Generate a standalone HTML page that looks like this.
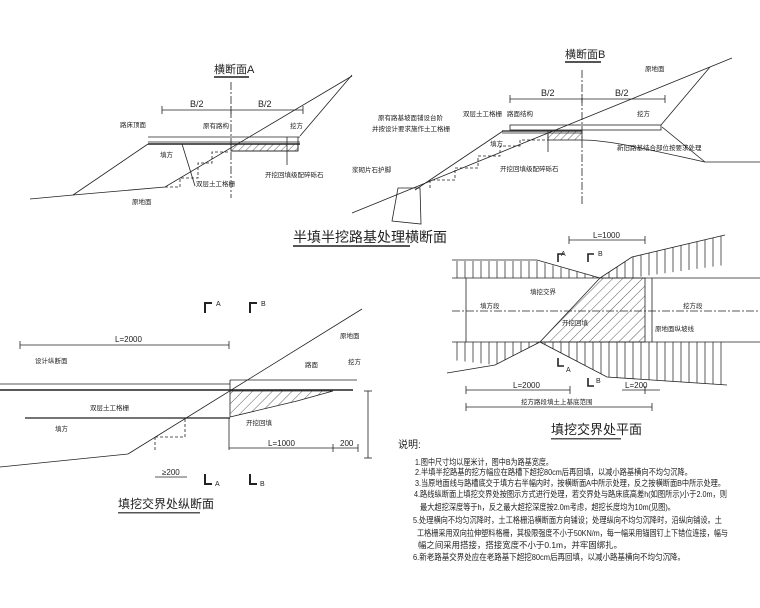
<!DOCTYPE html>
<html><head><meta charset="utf-8"><style>
html,body{margin:0;padding:0;background:#fff;}
svg{display:block;}
text{font-family:"Liberation Sans","Noto Sans CJK SC",sans-serif;fill:#222;}
</style></head><body>
<svg width="760" height="608" viewBox="0 0 760 608" xmlns="http://www.w3.org/2000/svg">
<defs>
<pattern id="h" width="5" height="5" patternUnits="userSpaceOnUse" patternTransform="rotate(45)"><line x1="0" y1="0" x2="0" y2="5" stroke="#333" stroke-width="0.8"/></pattern>
<pattern id="hb" width="7" height="7" patternUnits="userSpaceOnUse" patternTransform="rotate(45)"><line x1="0" y1="0" x2="0" y2="7" stroke="#333" stroke-width="0.8"/></pattern>
<pattern id="tk" width="8" height="30" patternUnits="userSpaceOnUse"><line x1="1" y1="0" x2="1" y2="30" stroke="#333" stroke-width="0.8"/></pattern>
</defs>
<g stroke="#222" stroke-width="0.8" fill="none">
<line x1="231" y1="82" x2="231" y2="198" stroke-dasharray="8,2,2,2"/>
<line x1="162" y1="110" x2="303" y2="110"/>
<line x1="162" y1="106" x2="162" y2="114"/><line x1="231" y1="106" x2="231" y2="114"/><line x1="303" y1="106" x2="303" y2="114"/>
<rect x="231" y="144" width="67" height="7" fill="url(#h)"/>
<line x1="148" y1="137" x2="300" y2="137"/>
<line x1="148" y1="142" x2="300" y2="142"/>
<line x1="148" y1="144" x2="300" y2="144" stroke-width="1.4"/>
<line x1="231" y1="151" x2="298" y2="151"/>
<line x1="298" y1="137" x2="298" y2="151"/>
<polyline points="30,199 73,195 165,187 352,76"/>
<line x1="73" y1="195" x2="148" y2="144"/>
<line x1="300" y1="136" x2="352" y2="75"/>
<polyline points="165,187 180,187 180,178 198,178 198,163 212,163 212,152 228,152" stroke-dasharray="3,2"/>
<line x1="182" y1="144" x2="195" y2="186"/>
<line x1="287" y1="137" x2="287" y2="165"/>
<line x1="582" y1="70" x2="582" y2="205" stroke-dasharray="8,2,2,2"/>
<line x1="510" y1="99" x2="665" y2="99"/>
<line x1="510" y1="95" x2="510" y2="103"/><line x1="582" y1="95" x2="582" y2="103"/><line x1="665" y1="95" x2="665" y2="103"/>
<rect x="548" y="131" width="34" height="9" fill="url(#h)"/>
<rect x="510" y="125" width="151" height="5"/>
<line x1="502" y1="131" x2="582" y2="131" stroke-width="1.3"/>
<line x1="502" y1="133" x2="582" y2="133"/>
<line x1="352" y1="213" x2="732" y2="58"/>
<line x1="661" y1="125" x2="710" y2="67"/>
<polyline points="662,127 705,162 760,162"/>
<line x1="503" y1="131" x2="415" y2="190"/>
<polygon points="398,188 420,188 421,224 392,221"/>
<path d="M582,140 C610,140 650,150 705,162"/>
<polyline points="430,188 430,180 455,180 455,168 478,168 478,156 500,156 500,146 520,146 520,140 548,140" stroke-dasharray="3,2"/>
<line x1="548" y1="133" x2="548" y2="152"/>
<line x1="20" y1="345" x2="229" y2="345"/><line x1="20" y1="341" x2="20" y2="349"/><line x1="229" y1="341" x2="229" y2="349"/>
<line x1="0" y1="384" x2="230" y2="384"/>
<line x1="230" y1="380" x2="357" y2="380"/>
<line x1="230" y1="380" x2="230" y2="390"/>
<line x1="0" y1="390" x2="353" y2="390" stroke-width="1.4"/>
<line x1="25" y1="418" x2="230" y2="418" stroke-width="1.2"/>
<polygon points="230,391 333,391 297,401 230,417" fill="url(#hb)"/>
<polyline points="0,467 128,454"/>
<line x1="128" y1="454" x2="362" y2="309"/>
<polyline points="155,437 185,437 185,418" stroke-dasharray="3,2"/>
<line x1="155" y1="437" x2="155" y2="450" stroke-dasharray="3,2"/>
<line x1="229" y1="418" x2="229" y2="450"/>
<line x1="229" y1="448" x2="358" y2="448"/><line x1="333" y1="444" x2="333" y2="452"/><line x1="358" y1="444" x2="358" y2="452"/>
<line x1="368" y1="391" x2="368" y2="458"/><line x1="364" y1="391" x2="372" y2="391"/><line x1="364" y1="458" x2="372" y2="458"/>
<line x1="155" y1="477" x2="187" y2="477"/>
<path d="M205,313 V303 H212 M250,313 V303 H257" stroke-width="2"/>
<path d="M205,474 V484 H212 M250,474 V484 H257" stroke-width="2"/>
<line x1="569" y1="240" x2="645" y2="240"/><line x1="569" y1="236" x2="569" y2="244"/><line x1="645" y1="236" x2="645" y2="244"/>
<polygon points="452,261 537,261 600,278 452,278" fill="url(#tk)" stroke="none"/>
<polygon points="600,278 632,257 725,235 725,265 630,278" fill="url(#tk)" stroke="none"/>
<polygon points="452,342 540,342 495,365 452,360" fill="url(#tk)" stroke="none"/>
<polygon points="540,342 727,342 727,385 607,377" fill="url(#tk)" stroke="none"/>
<polyline points="452,260 537,260 600,278"/>
<polyline points="600,278 632,257 725,235"/>
<polyline points="447,373 495,365 540,342 607,377 727,385"/>
<line x1="452" y1="278" x2="760" y2="278"/>
<line x1="452" y1="342" x2="760" y2="342"/>
<line x1="452" y1="311" x2="760" y2="311" stroke-dasharray="8,2,2,2"/>
<polygon points="600,278 645,278 645,342 540,342" fill="url(#hb)"/>
<line x1="652" y1="278" x2="652" y2="342"/>
<line x1="466" y1="278" x2="466" y2="342"/>
<line x1="466" y1="390" x2="570" y2="390"/><line x1="466" y1="386" x2="466" y2="394"/><line x1="570" y1="386" x2="570" y2="394"/>
<line x1="622" y1="390" x2="660" y2="390"/><line x1="645" y1="386" x2="645" y2="394"/>
<line x1="466" y1="407" x2="652" y2="407"/><line x1="466" y1="403" x2="466" y2="411"/><line x1="652" y1="403" x2="652" y2="411"/>
<path d="M558,262 V254 H564 M588,262 V254 H594 M558,358 V366 H564 M588,378 V386 H594" stroke-width="1.6"/>
</g>
<g fill="#555">
<rect x="214" y="76" width="35" height="2"/><rect x="565" y="61" width="36" height="2"/>
<rect x="293" y="245" width="117" height="2"/><rect x="118" y="512" width="82" height="1.5"/>
<rect x="551" y="438" width="70" height="1.5"/>
</g>
<g font-size="9">
<text x="214" y="73" font-size="11">横断面A</text>
<text x="565" y="58" font-size="11">横断面B</text>
<text x="293" y="242" font-size="14">半填半挖路基处理横断面</text>
<text x="118" y="508" font-size="12">填挖交界处纵断面</text>
<text x="551" y="434" font-size="13">填挖交界处平面</text>
<text x="190" y="107">B/2</text><text x="258" y="107">B/2</text>
<text x="541" y="96">B/2</text><text x="615" y="96">B/2</text>
<g font-size="6.5">
<text x="120" y="127">路床顶面</text><text x="203" y="128">原有路构</text><text x="290" y="128">挖方</text>
<text x="160" y="157">填方</text><text x="196" y="186">双层土工格栅</text><text x="265" y="177">开挖回填级配碎砾石</text>
<text x="132" y="204">原地面</text>
<text x="378" y="120">原有路基坡面铺设台阶</text><text x="372" y="131">并按设计要求施作土工格栅</text>
<text x="463" y="116">双层土工格栅</text><text x="507" y="116">路面结构</text><text x="637" y="116">挖方</text>
<text x="645" y="71">原地面</text><text x="490" y="146">填方</text><text x="500" y="171">开挖回填级配碎砾石</text>
<text x="617" y="150">新旧路基结合部位按要求处理</text><text x="352" y="172">浆砌片石护脚</text>
<text x="35" y="363">设计纵断面</text><text x="90" y="410">双层土工格栅</text><text x="55" y="431">填方</text>
<text x="305" y="367">路面</text><text x="340" y="338">原地面</text><text x="348" y="364">挖方</text>
<text x="246" y="425">开挖回填</text>
<text x="115" y="342" font-size="8">L=2000</text>
<text x="268" y="446" font-size="8">L=1000</text><text x="340" y="446" font-size="8">200</text>
<text x="162" y="475" font-size="8">≥200</text>
<text x="593" y="238" font-size="8">L=1000</text><text x="513" y="388" font-size="8">L=2000</text><text x="625" y="388" font-size="8">L=200</text>
<text x="521" y="404">挖方路段填土上基底范围</text>
<text x="480" y="308">填方段</text><text x="683" y="308">挖方段</text><text x="530" y="294">填挖交界</text>
<text x="562" y="325">开挖回填</text><text x="655" y="331">原地面纵坡线</text>
<text x="216" y="306" font-size="7">A</text><text x="261" y="306" font-size="7">B</text>
<text x="215" y="486" font-size="7">A</text><text x="260" y="486" font-size="7">B</text>
<text x="561" y="256" font-size="7">A</text><text x="598" y="256" font-size="7">B</text>
<text x="566" y="372" font-size="7">A</text><text x="596" y="383" font-size="7">B</text>
</g>
</g>
<g font-size="8.5">
<text x="398" y="448" font-size="10">说明:</text>
<text x="415" y="465" textLength="138" lengthAdjust="spacingAndGlyphs">1.图中尺寸均以厘米计，图中B为路基宽度。</text>
<text x="415" y="475" textLength="277" lengthAdjust="spacingAndGlyphs">2.半填半挖路基的挖方幅应在路槽下超挖80cm后再回填，以减小路基横向不均匀沉降。</text>
<text x="415" y="486" textLength="310" lengthAdjust="spacingAndGlyphs">3.当原地面线与路槽底交于填方右半幅内时，按横断面A中所示处理，反之按横断面B中所示处理。</text>
<text x="414" y="497" textLength="313" lengthAdjust="spacingAndGlyphs">4.路线纵断面上填挖交界处按图示方式进行处理，若交界处与路床底高差h(如图所示)小于2.0m，则</text>
<text x="420" y="510" textLength="255" lengthAdjust="spacingAndGlyphs">最大超挖深度等于h，反之最大超挖深度按2.0m考虑，超挖长度均为10m(见图)。</text>
<text x="413" y="523" textLength="309" lengthAdjust="spacingAndGlyphs">5.处理横向不均匀沉降时，土工格栅沿横断面方向铺设；处理纵向不均匀沉降时，沿纵向铺设。土</text>
<text x="417" y="536" textLength="311" lengthAdjust="spacingAndGlyphs">工格栅采用双向拉伸塑料格栅，其极限强度不小于50KN/m，每一幅采用锚固钉上下错位连接，幅与</text>
<text x="418" y="548" textLength="204" lengthAdjust="spacingAndGlyphs">幅之间采用搭接，搭接宽度不小于0.1m，并牢固绑扎。</text>
<text x="413" y="560" textLength="272" lengthAdjust="spacingAndGlyphs">6.新老路基交界处应在老路基下超挖80cm后再回填，以减小路基横向不均匀沉降。</text>
</g>
</svg>
</body></html>
